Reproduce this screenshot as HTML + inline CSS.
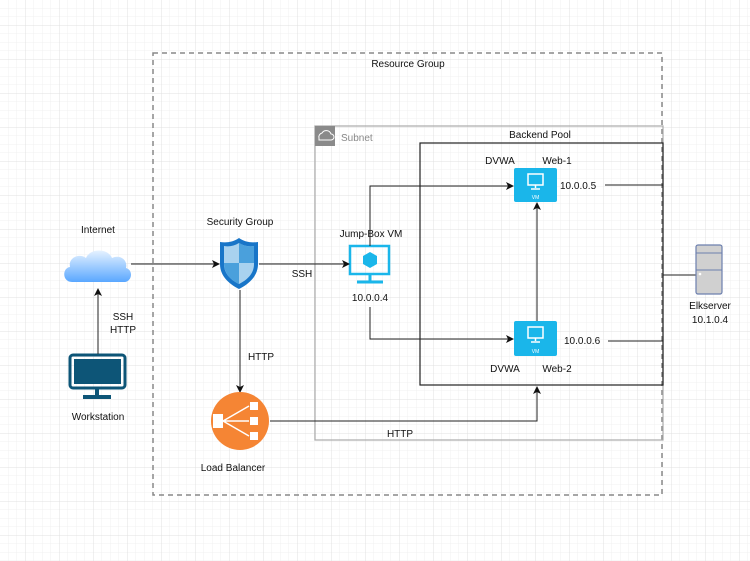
<!DOCTYPE html>
<html><head><meta charset="utf-8"><style>
html,body{margin:0;padding:0;background:#fff}
svg{display:block;font-family:"Liberation Sans",sans-serif}
text{font-size:10px;fill:#111}
</style></head><body>
<svg width="750" height="561" viewBox="0 0 750 561" xmlns="http://www.w3.org/2000/svg">
<defs>
<pattern id="minor" width="8.5" height="8.5" patternUnits="userSpaceOnUse" x="8" y="8">
<path d="M0 0H8.5M0 0V8.5" stroke="#f0f0f0" stroke-width="1" fill="none"/>
</pattern>
<pattern id="major" width="34" height="34" patternUnits="userSpaceOnUse" x="25" y="25">
<path d="M0 0H34M0 0V34" stroke="#e0e0e0" stroke-width="1" fill="none"/>
</pattern>
<marker id="ar" markerWidth="8" markerHeight="8" refX="7" refY="4" orient="auto" markerUnits="userSpaceOnUse">
<path d="M0 0L8 4L0 8L2 4Z" fill="#111"/>
</marker>
<linearGradient id="cloud" x1="0" y1="0" x2="0" y2="1"><stop offset="0" stop-color="#e6f2ff"/><stop offset="1" stop-color="#5aa7ff"/></linearGradient>
</defs>
<rect width="750" height="561" fill="url(#minor)"/>
<rect width="750" height="561" fill="url(#major)"/>

<!-- Resource group -->
<rect x="153" y="53" width="509" height="442" fill="none" stroke="#888" stroke-width="1.5" stroke-dasharray="5,4"/>
<text x="408" y="67" text-anchor="middle">Resource Group</text>

<!-- Subnet -->
<rect x="315" y="126" width="348" height="314" fill="none" stroke="#aaa" stroke-width="1.2"/>
<rect x="315" y="126" width="20" height="20" fill="#8a8a8a"/>
<path d="M319 138a4 4 0 0 1 3-5a5 5 0 0 1 9 1a3 3 0 0 1 0 6h-12z" fill="none" stroke="#fff" stroke-width="1"/>
<text x="341" y="141" fill="#888" style="fill:#888">Subnet</text>

<!-- Backend pool -->
<rect x="420" y="143" width="243" height="242" fill="none" stroke="#222" stroke-width="1.2"/>
<text x="540" y="138" text-anchor="middle">Backend Pool</text>

<!-- Web-1 -->
<rect x="514" y="168" width="43" height="34" rx="2" fill="#1ab6ea"/>
<rect x="528" y="174" width="15" height="11" fill="none" stroke="#fff" stroke-width="1.5"/>
<path d="M535.5 185v3M531 189h9" stroke="#fff" stroke-width="1.5"/>
<text x="535.5" y="199" text-anchor="middle" style="font-size:5px;fill:#fff">VM</text>
<text x="500" y="164" text-anchor="middle">DVWA</text>
<text x="557" y="164" text-anchor="middle">Web-1</text>
<text x="560" y="189">10.0.0.5</text>
<line x1="605" y1="185" x2="663" y2="185" stroke="#222"/>

<!-- Web-2 -->
<rect x="514" y="321" width="43" height="35" rx="2" fill="#1ab6ea"/>
<rect x="528" y="327" width="15" height="11" fill="none" stroke="#fff" stroke-width="1.5"/>
<path d="M535.5 338v3M531 342h9" stroke="#fff" stroke-width="1.5"/>
<text x="535.5" y="353" text-anchor="middle" style="font-size:5px;fill:#fff">VM</text>
<text x="505" y="372" text-anchor="middle">DVWA</text>
<text x="557" y="372" text-anchor="middle">Web-2</text>
<text x="564" y="344">10.0.0.6</text>
<line x1="608" y1="341" x2="663" y2="341" stroke="#222"/>

<line x1="537" y1="321" x2="537" y2="203" stroke="#222" marker-end="url(#ar)"/>

<!-- Jump box -->
<text x="371" y="237" text-anchor="middle">Jump-Box VM</text>
<rect x="350" y="246" width="39" height="28" fill="none" stroke="#1ab6ea" stroke-width="2.5"/>
<path d="M370 274v7M357 282h26" stroke="#1ab6ea" stroke-width="3"/>
<path d="M370 252l7 4v8l-7 4l-7-4v-8z" fill="#1ab6ea"/>
<text x="370" y="301" text-anchor="middle">10.0.0.4</text>
<polyline points="370,246 370,186 513,186" fill="none" stroke="#222" marker-end="url(#ar)"/>
<polyline points="370,307 370,339 513,339" fill="none" stroke="#222" marker-end="url(#ar)"/>

<!-- SSH -->
<line x1="259" y1="264" x2="349" y2="264" stroke="#222" marker-end="url(#ar)"/>
<text x="302" y="277" text-anchor="middle">SSH</text>

<!-- Internet -->
<text x="98" y="233" text-anchor="middle">Internet</text>
<path d="M72 282c-10 0-10-14 -2-15c-2-10 10-14 16-9c4-10 22-10 26 0c8-4 16 2 14 10c8 2 6 15-3 14z" fill="url(#cloud)"/>
<line x1="131" y1="264" x2="219" y2="264" stroke="#222" marker-end="url(#ar)"/>

<!-- Shield -->
<path d="M239 238c6 4 12 5 19 4v22c0 12-9 20-19 25c-10-5-19-13-19-25v-22c7 1 13 0 19-4z" fill="#1875c8"/>
<path d="M239 243c5 3 10 4 15 3v18c0 10-7 16-15 20c-8-4-15-10-15-20v-18c5 1 10 0 15-3z" fill="#a9d2ef"/>
<path d="M239 243v20h15v-17c-5 1-10 0-15-3zM224 263h15v21c-8-4-15-10-15-21z" fill="#4aa0dc"/>
<text x="240" y="225" text-anchor="middle">Security Group</text>

<line x1="240" y1="290" x2="240" y2="392" stroke="#222" marker-end="url(#ar)"/>
<text x="261" y="360" text-anchor="middle">HTTP</text>

<!-- Load balancer -->
<circle cx="240" cy="421" r="29" fill="#f58534"/>
<rect x="213" y="414" width="10" height="14" fill="#fff"/>
<rect x="250" y="402" width="8" height="8" fill="#fff"/>
<rect x="250" y="417" width="8" height="8" fill="#fff"/>
<rect x="250" y="432" width="8" height="8" fill="#fff"/>
<path d="M223 421L249 406M223 421H249M223 421L249 436" stroke="#fff" stroke-width="1.5"/>
<text x="233" y="471" text-anchor="middle">Load Balancer</text>
<polyline points="270,421 537,421 537,387" fill="none" stroke="#222" marker-end="url(#ar)"/>
<text x="400" y="437" text-anchor="middle">HTTP</text>

<!-- Workstation -->
<rect x="70" y="355" width="55" height="33" rx="3" fill="none" stroke="#0d5577" stroke-width="3"/>
<rect x="74" y="359" width="47" height="25" fill="#0d5577"/>
<path d="M97 389v6M83 397h28" stroke="#0d5577" stroke-width="4"/>
<text x="98" y="420" text-anchor="middle">Workstation</text>
<line x1="98" y1="354" x2="98" y2="289" stroke="#222" marker-end="url(#ar)"/>
<text x="123" y="320" text-anchor="middle">SSH</text>
<text x="123" y="333" text-anchor="middle">HTTP</text>

<!-- Elkserver -->
<line x1="663" y1="275" x2="696" y2="275" stroke="#222"/>
<rect x="696" y="245" width="26" height="49" rx="2" fill="#d0d0d0" stroke="#6c7fae" stroke-width="1.2"/>
<line x1="696" y1="253" x2="722" y2="253" stroke="#6c7fae"/>
<line x1="696" y1="270" x2="722" y2="270" stroke="#6c7fae"/>
<circle cx="700" cy="274" r="1.3" fill="#fff"/>
<text x="710" y="309" text-anchor="middle">Elkserver</text>
<text x="710" y="323" text-anchor="middle">10.1.0.4</text>
</svg>
</body></html>
